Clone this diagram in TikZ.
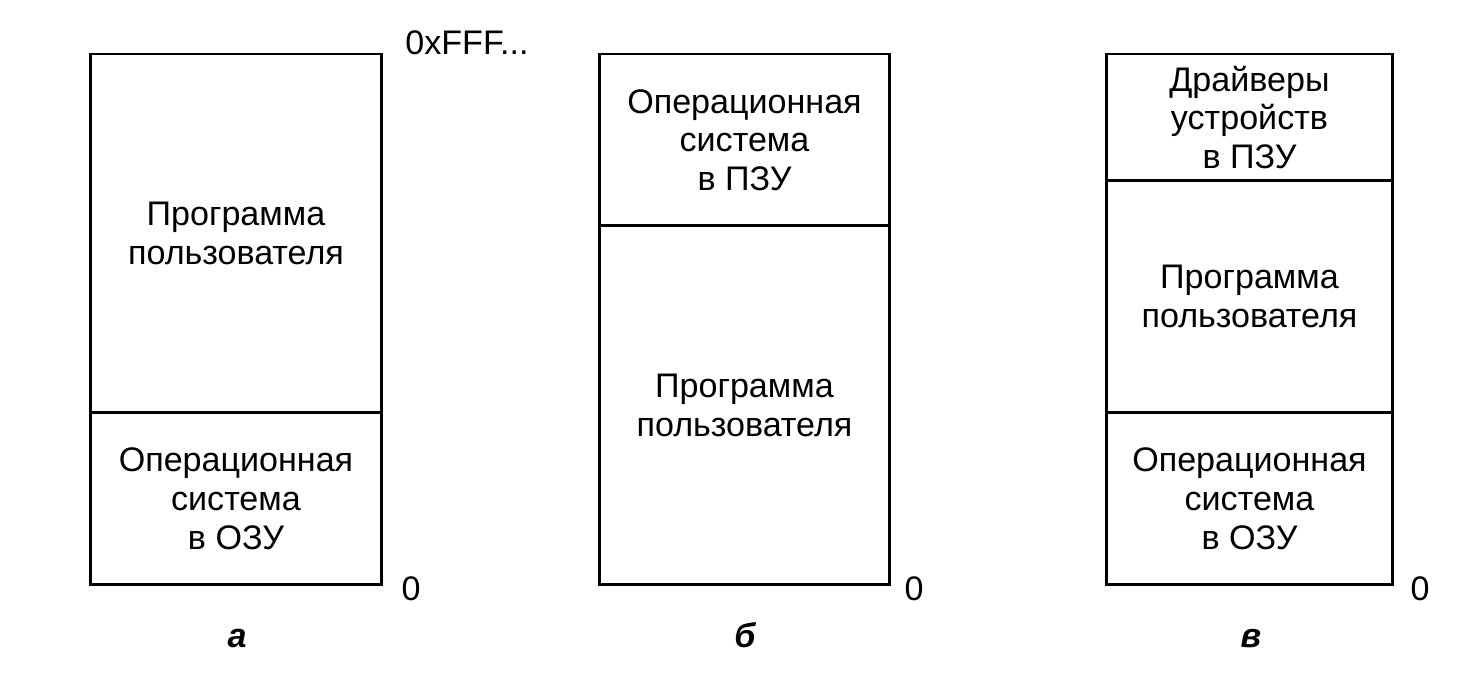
\documentclass[tikz,border=0pt]{standalone}
\usepackage{fontspec}
\setmainfont{Liberation Sans}
\usetikzlibrary{positioning}

\begin{document}
\begin{tikzpicture}[x=0.02cm,y=-0.02cm,node distance=0pt,
                    cell/.style={draw,line width=1.7pt,outer sep=0pt,inner sep=0pt,
                                 minimum width=5.82cm,align=center,
                                 font=\fontsize{19.4}{22}\selectfont},
                    addr/.style={font=\fontsize{19.4}{22}\selectfont,inner sep=0pt},
                    caption/.style={font=\fontsize{19.4}{22}\selectfont\bfseries\itshape,
                                    anchor=base,inner sep=0pt}]

  \useasboundingbox (0,0) rectangle (1479,672);

  % a
  \node[cell,minimum height=7.17cm,anchor=north west] (aprog) at (90.5,54) {Программа\\пользователя};
  \node[cell,minimum height=3.45cm,below=of aprog]    (aos)   {Операционная\\система\\в ОЗУ};

  % b
  \node[cell,minimum height=3.44cm,anchor=north west] (bos)   at (599,54) {Операционная\\система\\в ПЗУ};
  \node[cell,minimum height=7.18cm,below=of bos]      (bprog) {Программа\\пользователя};

  % c
  \node[cell,minimum width=5.74cm,minimum height=2.53cm,anchor=north west] (cdrv) at (1106,54) {Драйверы\\устройств\\в ПЗУ};
  \node[cell,minimum width=5.74cm,minimum height=4.65cm,below=of cdrv]     (cprog) {Программа\\пользователя};
  \node[cell,minimum width=5.74cm,minimum height=3.44cm,below=of cprog]    (cos)   {Операционная\\система\\в ОЗУ};

  % addresses
  \node[addr,anchor=west] (top)   at (405,43)  {0xFFF...};
  \node[addr]             (azero) at (411,589) {0};
  \node[addr]             (bzero) at (914,589) {0};
  \node[addr]             (czero) at (1420,589) {0};

  % captions
  \node[caption] (acap) at (237,647)  {а};
  \node[caption] (bcap) at (745,647)  {б};
  \node[caption] (ccap) at (1251,647) {в};
\end{tikzpicture}
\end{document}
